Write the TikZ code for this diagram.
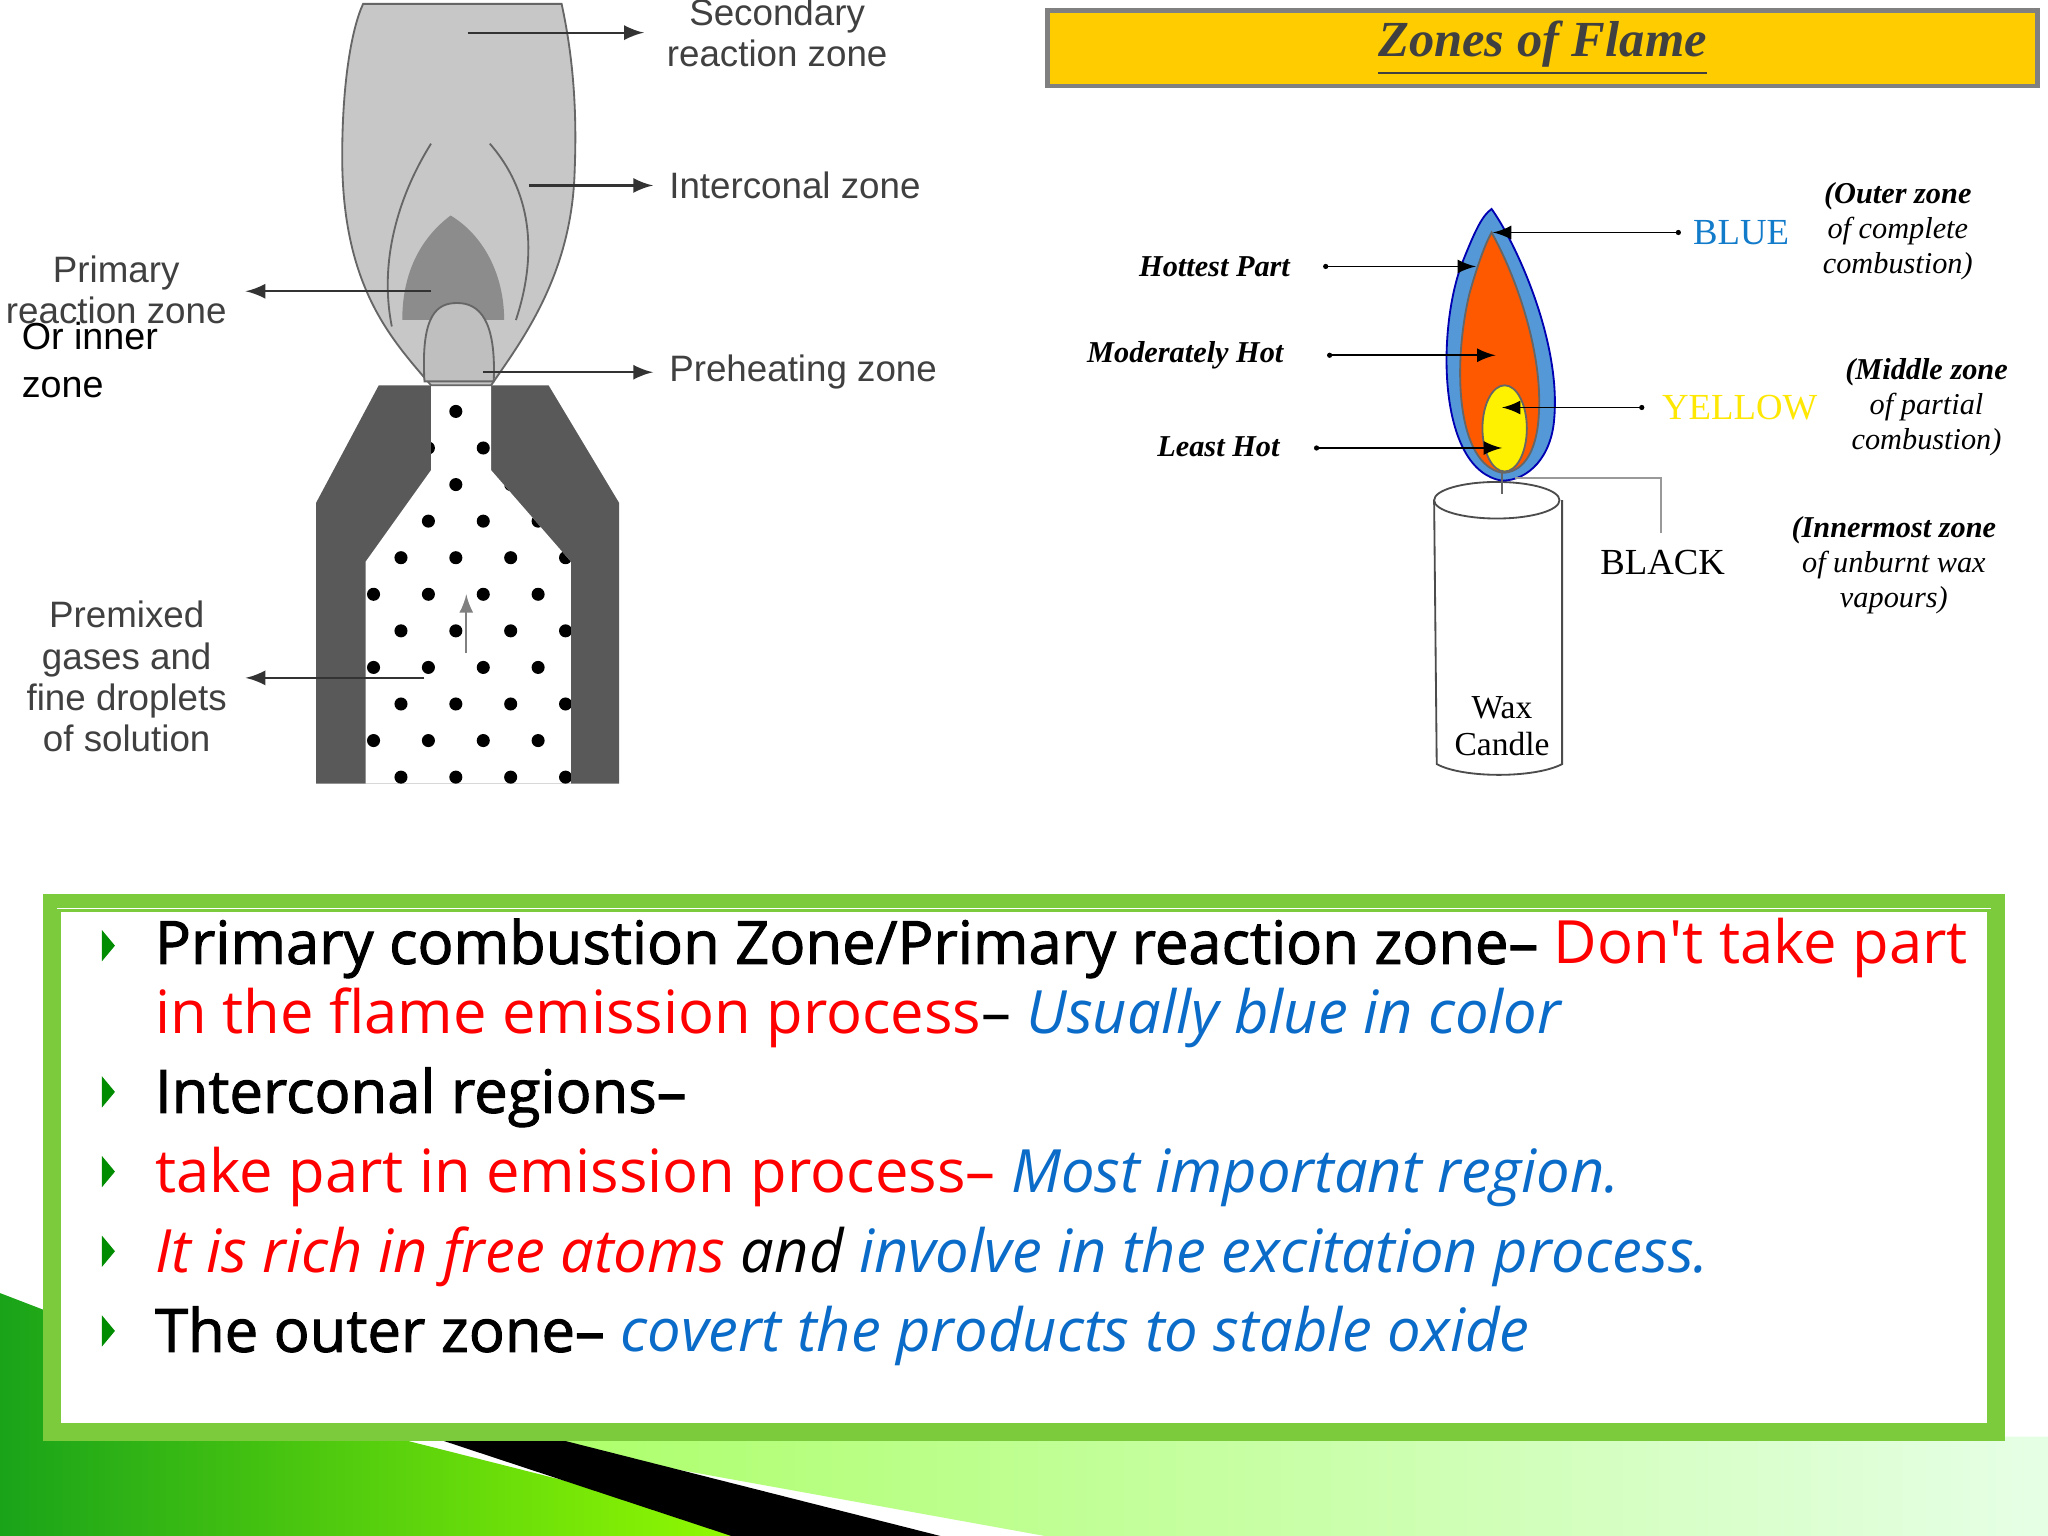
\documentclass[tikz,border=0pt]{standalone}
\usepackage{fontspec}
\setmainfont{Liberation Sans}
\newfontfamily\serifx{Liberation Serif}
\newfontfamily\dejav{Open Sans}
\newfontfamily\semib[FakeBold=1.6]{Open Sans}
\definecolor{boxgreen}{HTML}{7CCB3C}
\definecolor{textblue}{HTML}{0A6CC8}
\definecolor{titley}{HTML}{FFCC00}
\begin{document}
\begin{tikzpicture}[x=0.01cm,y=-0.01cm,
 lbl/.style={font=\fontsize{8}{9}\selectfont,text=black!75,align=center},
 arr/.style={-latex,black!80,line width=0.5pt},
 cl/.style={font=\serifx\bfseries\itshape\fontsize{6.6}{7.6}\selectfont,align=center},
 ds/.style={font=\serifx\itshape\fontsize{6.6}{7.6}\selectfont,align=center},
 bt/.style={font=\dejav\fontsize{13}{14}\selectfont,anchor=base west,inner sep=0},
 bul/.style={fill=green!55!black,draw=none}]
\useasboundingbox (0,0) rectangle (1568,1176);
\fill[white] (0,0) rectangle (1568,1176);
% bottom decoration
\shade[left color=green!60!black!90,right color=lime!80!green] (0,990)--(260,1090)--(600,1176)--(0,1176)--cycle;
\shade[left color=lime!60!green!60,right color=green!10] (380,1100)--(1568,1100)--(1568,1176)--(800,1176)--cycle;
\fill[black] (330,1100)--(420,1100)--(720,1176)--(560,1176)--cycle;
% burner
\fill[black!65] (242,600)--(242,385)--(290,295)--(420,295)--(474,385)--(474,600)--cycle;
\fill[white] (280,600)--(280,430)--(330,360)--(330,295)--(376,295)--(376,360)--(437,430)--(437,600)--cycle;
\begin{scope}
\clip (280,600)--(280,430)--(330,360)--(330,295)--(376,295)--(376,360)--(437,430)--(437,600)--cycle;
\foreach \r in {0,...,10}{\foreach \c in {0,...,6}{
 \pgfmathsetmacro\xx{265+\c*42+mod(\r,2)*21}
 \pgfmathsetmacro\yy{315+\r*28}
 \fill (\xx,\yy) circle (5);}}
\end{scope}
\draw[-latex,black!50] (357,500)--(357,455);
% flame
\fill[black!22,draw=black!60] (330,295) .. controls (300,260) and (262,220) .. (262,120) .. controls (262,60) and (270,20) .. (278,3) -- (430,3) .. controls (438,40) and (442,80) .. (440,130) .. controls (438,210) and (400,260) .. (376,295) -- cycle;
\draw[black!60] (300,250) .. controls (290,200) and (305,150) .. (330,110);
\draw[black!60] (395,245) .. controls (410,200) and (410,150) .. (375,110);
\fill[black!45] (308,245) .. controls (308,205) and (325,180) .. (345,165) .. controls (370,180) and (386,210) .. (386,245) -- cycle;
\fill[black!25,draw=black!60] (325,292) .. controls (322,240) and (335,232) .. (350,232) .. controls (367,232) and (380,245) .. (378,292) -- cycle;
\node[lbl] (sec) at (595,25) {Secondary\\reaction zone};
\draw[arr] (358,25) -- (493,25);
\node[lbl,anchor=west] (ic) at (500,142) {Interconal zone};
\draw[arr] (405,142) -- (ic.west);
\node[lbl,anchor=west] (ph) at (500,285) {Preheating zone};
\draw[arr] (370,285) -- (ph.west);
\node[lbl] (pr) at (89,222) {Primary\\reaction zone};
\draw[arr] (330,223) -- (188,223);
\node[font=\fontsize{8.2}{10.5}\selectfont,align=left,anchor=north west,inner sep=0] (oi) at (16,246) {Or inner\\zone};
\node[lbl] (pm) at (97,518) {Premixed\\gases and\\fine droplets\\of solution};
\draw[arr] (325,519) -- (188,519);
% title
\fill[titley,draw=black!50,line width=1pt] (802,8) rectangle (1560,66);
\node[font=\serifx\bfseries\itshape\fontsize{11}{12}\selectfont,text=black!75] (tt) at (1181,37) {\underline{Zones of Flame}};
% candle
\fill[white,draw=black!70] (1098,383) -- (1100,585) .. controls (1120,596) and (1175,596) .. (1196,585) -- (1196,383);
\draw[black!70,fill=white] (1146,383) ellipse (48 and 14);
\node[font=\serifx\fontsize{7.3}{8.2}\selectfont,align=center] (wc) at (1150,556) {Wax\\Candle};
\fill[cyan!60!blue!70,draw=blue!70!black] (1150,368) .. controls (1100,360) and (1100,250) .. (1120,200) .. controls (1130,175) and (1135,165) .. (1142,160) .. controls (1160,185) and (1195,260) .. (1190,320) .. controls (1188,350) and (1170,368) .. (1150,368) -- cycle;
\fill[orange!70!red,draw=black!60] (1150,362) .. controls (1115,355) and (1112,280) .. (1125,225) .. controls (1132,200) and (1138,185) .. (1142,178) .. controls (1160,210) and (1182,270) .. (1178,320) .. controls (1176,348) and (1165,362) .. (1150,362) -- cycle;
\fill[yellow,draw=black!60] (1152,328) ellipse (17 and 33);
\draw[black!60] (1150,362) -- (1150,378);
\node[cl,anchor=east] (hp) at (1000,204) {Hottest Part};
\node[cl,anchor=east] (mh) at (995,272) {Moderately Hot};
\node[cl,anchor=east] (lh) at (992,342) {Least Hot};
\foreach \a/\b/\y in {1015/1130/204,1018/1145/272,1008/1150/343}{
 \fill (\a,\y) circle (2);
 \draw[-latex] (\a,\y) -- (\b,\y);}
\node[font=\serifx\fontsize{8}{9}\selectfont,text=cyan!60!blue] (bl) at (1333,178) {BLUE};
\fill (1285,178) circle (2); \draw[-latex] (1285,178) -- (1143,178);
\node[font=\serifx\fontsize{8}{9}\selectfont,text=yellow!90!orange] (yl) at (1332,312) {YELLOW};
\fill (1257,312) circle (2); \draw[-latex] (1257,312) -- (1150,312);
\node[font=\serifx\fontsize{8}{9}\selectfont] (bk) at (1273,431) {BLACK};
\draw[black!40] (1160,366) -- (1272,366) -- (1272,408);
\node[ds] (d1) at (1453,177) {\textbf{(Outer zone}\\of complete\\combustion)};
\node[ds] (d2) at (1475,312) {\textbf{(Middle zone}\\of partial\\combustion)};
\node[ds] (d3) at (1450,433) {\textbf{(Innermost zone}\\of unburnt wax\\vapours)};
% text box
\draw[boxgreen,fill=white,line width=3pt] (38,690) rectangle (1530,1098);
\draw[boxgreen,line width=0.8pt] (45,697) rectangle (1523,1091);
\foreach \y in {724,836,897,958,1019}{\fill[bul] (78,\y-12)--(88,\y)--(78,\y+12)--cycle;}
\node[bt] (l1) at (118,738) {{\semib Primary combustion Zone/Primary reaction zone–} \textcolor{red}{Don't take part}};
\node[bt] (l2) at (118,791) {\textcolor{red}{in the flame emission process}– \textcolor{textblue}{\itshape Usually blue in color}};
\node[bt] (l3) at (118,852) {{\semib Interconal regions–}};
\node[bt] (l4) at (118,913) {\textcolor{red}{take part in emission process– }\textcolor{textblue}{\itshape Most important region.}};
\node[bt] (l5) at (118,974) {\textcolor{red}{\itshape It is rich in free atoms} {\itshape and} \textcolor{textblue}{\itshape involve in the excitation process.}};
\node[bt] (l6) at (118,1035) {{\semib The outer zone–} \textcolor{textblue}{\itshape covert the products to stable oxide}};
\end{tikzpicture}
\end{document}
